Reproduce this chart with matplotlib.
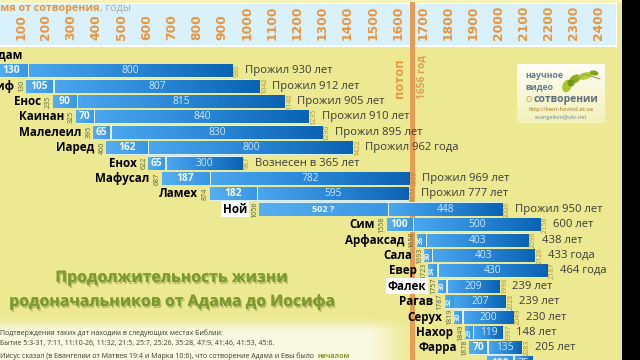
import numpy as np
import matplotlib
matplotlib.use('Agg')
from matplotlib import pyplot as plt
from matplotlib.colors import LinearSegmentedColormap
from matplotlib.patches import Rectangle, Ellipse
import matplotlib.patheffects as pe

plt.rcParams['font.family'] = ['Open Sans', 'DejaVu Sans']

# data
names = ['Адам', 'Сиф', 'Енос', 'Каинан', 'Малелеил', 'Иаред', 'Енох', 'Мафусал', 'Ламех', 'Ной',
         'Сим', 'Арфаксад', 'Сала', 'Евер', 'Фалек', 'Рагав', 'Серух', 'Нахор', 'Фарра', 'Авраам']
# where the bars sit on the drawing (the original is not quite true to its own scale)
bar_start = [0, 125, 230, 320, 388, 439, 603, 655, 842, 1036,
             1535, 1652, 1681, 1698, 1737, 1762, 1800, 1843, 1858, 1929]
first_part = [130, 105, 90, 70, 65, 162, 65, 187, 182, 502, 100, 35, 30, 34, 30, 32, 30, 29, 70, 100]
second_part = [800, 807, 815, 840, 830, 800, 300, 782, 595, 448, 500, 403, 403, 430, 209, 207, 200, 119, 135, 75]
birth_labels = ['', '130', '235', '325', '395', '460', '622', '687', '874', '1056',
                '1558', '1658', '1693', '1723', '1757', '1787', '1819', '1849', '1878', '1948']
death_labels = ['930', '1042', '1140', '1235', '1290', '1422', '987', '1656', '1651', '2006',
                '2158', '2096', '2126', '2187', '1996', '2026', '2049', '1997', '2083', '2123']
life_text = ['Прожил 930 лет', 'Прожил 912 лет', 'Прожил 905 лет', 'Прожил 910 лет', 'Прожил 895 лет',
             'Прожил 962 года', 'Вознесен в 365 лет', 'Прожил 969 лет', 'Прожил 777 лет', 'Прожил 950 лет',
             '600 лет', '438 лет', '433 года', '464 года', '239 лет', '239 лет', '230 лет', '148 лет',
             '205 лет', '175 лет']
boxed = ['Ной', 'Фалек', 'Авраам']
year_ticks = list(range(100, 2500, 100))
flood_year = 1656

W, H = 640, 360
YELLOW = '#EDE993'
ORANGE = '#E8963F'

fig = plt.figure(figsize=(W / 100, H / 100), dpi=100, facecolor=YELLOW)

# background layer, in pixels from the top left
bg = fig.add_axes([0, 0, 1, 1], zorder=0)
bg.set_xlim(0, W)
bg.set_ylim(H, 0)
bg.axis('off')
bg.add_patch(Rectangle((0, 0), W, 2.5, color='#F7F3B8', lw=0))
bg.add_patch(Rectangle((0, 2.5), 617, 44.5, color='white', lw=0))
bg.add_patch(Rectangle((0, 3.5), 616, 41, color='#D8F1FB', lw=0))
bg.add_patch(Rectangle((622, 0), 18, H, color='black', lw=0))

# whitish panel at the bottom left
gx, gy = np.meshgrid(np.linspace(0, 1, 160), np.linspace(0, 1, 60))
alpha = np.clip(gy * 2.4, 0, 0.72) * np.clip((1 - gx) * 10, 0, 1)
panel = np.ones((60, 160, 4))
panel[..., 3] = alpha
bg.imshow(panel, extent=[0, 412, H, 318], aspect='auto', zorder=1)
bg.set_xlim(0, W)
bg.set_ylim(H, 0)

# logo box
logo = np.ones((40, 2, 4))
logo[..., 3] = np.linspace(0.92, 0.35, 40)[:, None]
bg.imshow(logo, extent=[517, 605, 123, 64], aspect='auto', zorder=1)
bg.set_xlim(0, W)
bg.set_ylim(H, 0)
for ex, ey, ew, eh, ang, col in [(567, 86, 9, 13, 20, '#A9C62B'), (575, 79, 12, 8, -30, '#8FB020'),
                                 (585, 76, 14, 7, -15, '#B7CF35'), (594, 73, 9, 5, 10, '#7FA11E'),
                                 (571, 83, 7, 7, 0, '#6E9418')]:
    bg.add_patch(Ellipse((ex, ey), ew, eh, angle=ang, color=col, lw=0, zorder=2))
bg.plot([572, 584, 600], [84, 74, 79], color='#8C9A60', lw=0.7, zorder=2)
bg.text(525, 75, 'научное', fontsize=6.3, fontweight='bold', color='#5E7F92', va='center', zorder=3)
bg.text(525, 87, 'видео', fontsize=6.3, fontweight='bold', color='#5E7F92', va='center', zorder=3)
bg.text(525, 99.5, 'о', fontsize=7.5, color=ORANGE, va='center', zorder=3)
bg.text(533.5, 99.5, 'сотворении', fontsize=7.5, fontweight='bold', color='#5E6F7C', va='center', zorder=3)
bg.text(561, 110, 'http://kent-hovind.at.ua', fontsize=3.9, fontweight='bold', color='#C2A25A',
        ha='center', va='center', zorder=3)
bg.text(561, 118, 'evangelism@ukr.net', fontsize=4, color='#6E8494', ha='center', va='center', zorder=3)

# header text
bg.text(100, 8, 'Время от сотворения', fontsize=7.7, fontweight='bold', color=ORANGE, ha='right', va='center', zorder=3)
bg.text(100, 8, ', годы', fontsize=7.7, color='#A9A9A0', ha='left', va='center', zorder=3)

# title
shadow = [pe.withSimplePatchShadow(offset=(1, -1.5), shadow_rgbFace='#5F6A30', alpha=0.35), pe.Normal()]
bg.text(172, 278, 'Продолжительность жизни', fontsize=11.4, fontweight='bold', color='#7C9A2E',
        ha='center', va='center', path_effects=shadow, zorder=3)
bg.text(173, 302, 'родоначальников от Адама до Иосифа', fontsize=11.4, fontweight='bold', color='#7C9A2E',
        ha='center', va='center', path_effects=shadow, zorder=3)

# small print
bg.text(0, 333.5, 'Подтверждения таких дат находим в следующих местах Библии:', fontsize=5.0, color='#3C3C34', va='center', zorder=3)
bg.text(0, 344, 'Бытие 5:3-31, 7:11, 11:10-26, 11:32, 21:5, 25:7, 25:26, 35:28, 47:9, 41:46, 41:53, 45:6.',
        fontsize=5.0, color='#3C3C34', va='center', zorder=3)
bg.text(0, 356, 'Иисус сказал (в Евангелии от Матвея 19:4 и Марка 10:6), что сотворение Адама и Евы было',
        fontsize=5.0, color='#3C3C34', va='center', zorder=3)
bg.text(318, 356, 'началом', fontsize=5.0, fontweight='bold', color='#8C9A2A', va='center', zorder=3)

# year axis along the top, with the flood line on the same scale
top = fig.add_axes([0, 0, 1, (H - 40) / H], zorder=1)
top.patch.set_alpha(0)
top.set_xlim(17.66, 2563.3)
top.set_ylim(0, 1)
for s in top.spines.values():
    s.set_visible(False)
top.xaxis.tick_top()
top.set_xticks(year_ticks)
top.set_xticklabels([str(y) for y in year_ticks], rotation=90, fontsize=8.8, fontweight='bold',
                    color=ORANGE, family='DejaVu Sans')
top.tick_params(axis='x', length=0, pad=0)
top.set_yticks([])
top.axvline(flood_year, ymin=0, ymax=(H - 3.5) / (H - 40), color='#E79C55', lw=3.6, clip_on=False)
top.text(flood_year - 48, 0.881, 'потоп', rotation=90, fontsize=9.2, fontweight='bold', color=ORANGE,
         ha='center', va='center')
top.text(flood_year + 40, 0.884, '1656 год', rotation=90, fontsize=7.4, fontweight='bold', color='#D9A05A',
         ha='center', va='center')

# bars
ax = fig.add_axes([0, 0, 1, 1], zorder=2)
ax.patch.set_alpha(0)
ax.axis('off')
xlim = (22.68, 2525.6)
ylim = (18.79, -4.59)
first_cmap = LinearSegmentedColormap.from_list('first', ['#56AEF0', '#3A97E4'])
second_cmap = LinearSegmentedColormap.from_list('second', ['#4BA6EE', '#2A86D6', '#0A62B2'])
ramp = np.linspace(0, 1, 64).reshape(1, -1)
bar_h = 0.84
gap = 6

for i, name in enumerate(names):
    s = bar_start[i]
    f = first_part[i]
    r = second_part[i]
    end = s + f + r
    ax.barh(i, f + r, left=s, height=bar_h + 0.06, color='#DDF0F4', lw=0, zorder=1)
    ax.imshow(ramp, extent=[s, s + f, i + bar_h / 2, i - bar_h / 2], cmap=first_cmap, aspect='auto', zorder=2)
    ax.imshow(ramp, extent=[s + f + gap, end, i + bar_h / 2, i - bar_h / 2], cmap=second_cmap, aspect='auto', zorder=2)

    # values inside the bar
    if f < 40:
        ax.text(s + f / 2, i, str(f), rotation=90, fontsize=5.3, fontweight='bold', color='#E4F3FC',
                ha='center', va='center', zorder=3)
    elif name == 'Ной':
        ax.text(s + f / 2, i, '502 ?', fontsize=6.6, fontweight='bold', color='#F0F8FE', ha='center', va='center', zorder=3)
    else:
        ax.text(s + f / 2, i, str(f), fontsize=7.4, fontweight='bold', color='#F0F8FE', ha='center', va='center', zorder=3)
    ax.text(s + f + gap + (r - gap) / 2, i, str(r), fontsize=7.4, color='#CFE8FA', ha='center', va='center', zorder=3)

    # small vertical years at both ends
    if birth_labels[i]:
        ax.annotate(birth_labels[i], (s, i), xytext=(-4.5, 0), textcoords='offset pixels', rotation=90,
                    fontsize=5.1, color='#55623A', ha='center', va='center', zorder=3)
    ax.annotate(death_labels[i], (end, i), xytext=(5, 0), textcoords='offset pixels', rotation=90,
                fontsize=5.1, color='#AE9230', ha='center', va='center', zorder=3)
    ax.annotate(life_text[i], (end, i), xytext=(13, 0), textcoords='offset pixels',
                fontsize=8.1, color='#3B3B36', ha='left', va='center', zorder=3)

    # names, Adam's stands above his bar
    box = dict(facecolor='white', edgecolor='none', pad=1.2) if name in boxed else None
    if i == 0:
        ax.annotate(name, (s + 111, i), xytext=(0, 15.5), textcoords='offset pixels', fontsize=8.4, fontweight='bold',
                    color='black', ha='right', va='center', zorder=3)
    else:
        ax.annotate(name, (s, i), xytext=(-12, 0), textcoords='offset pixels', fontsize=8.4, fontweight='bold',
                    color='black', ha='right', va='center', bbox=box, zorder=3)

ax.set_xlim(*xlim)
ax.set_ylim(*ylim)

fig.savefig('out.png', dpi=100, facecolor=YELLOW)
